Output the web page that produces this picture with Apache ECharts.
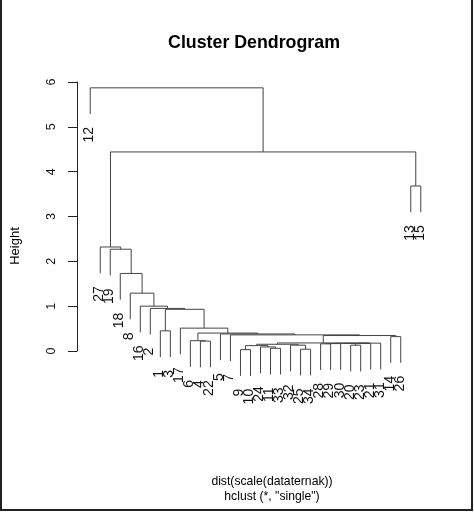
<!DOCTYPE html>
<html>
<head>
<meta charset="utf-8">
<script src="https://cdn.jsdelivr.net/npm/echarts@6/dist/echarts.min.js"></script>
<style>
html, body { margin: 0; padding: 0; background: #fff; }
#main { width: 474px; height: 512px; }
</style>
</head>
<body>
<div id="main"></div>
<script>
// leaves, left to right, as drawn by plot(hclust)
var leafOrder = [12, 27, 19, 18, 8, 16, 2, 1, 3, 17, 6, 4, 22, 5, 7, 9, 10, 24, 11, 33,
                 32, 25, 34, 28, 29, 30, 20, 23, 21, 31, 14, 26, 13, 15];

// hclust style merges: negative = observation, positive = earlier merge step (1 based)
var mergePairs = [
    [-9, -10], [-25, -34], [-11, -33], [-24, 3], [1, 4], [-20, -23], [-32, 2], [5, 7],
    [-28, -29], [9, -30], [10, 6], [11, -21], [12, -31], [8, 13], [-4, -22], [-6, 15],
    [-14, -26], [14, 17], [-7, 18], [-5, 19], [16, 20], [-1, -3], [-17, 21], [22, 23],
    [-2, 24], [-16, 25], [-8, 26], [-18, 27], [-19, 28], [-27, 29], [-13, -15], [30, 31],
    [-12, 32]
];
var mergeHeights = [0.03, 0.04, 0.06, 0.09, 0.12, 0.13, 0.13, 0.15,
                    0.16, 0.165, 0.17, 0.17, 0.175, 0.18, 0.22, 0.23,
                    0.32, 0.345, 0.36, 0.38, 0.40, 0.45, 0.51, 0.93,
                    0.95, 1.00, 1.29, 1.73, 2.27, 2.32, 3.68, 4.44,
                    5.87];
var yTicks = [0, 1, 2, 3, 4, 5, 6];

// build the dendrogram segments (in data units) from the merges
var leafPos = {};
leafOrder.forEach(function (l, i) { leafPos[l] = i; });
var maxH = Math.max.apply(null, mergeHeights);
var minH = Math.min.apply(null, mergeHeights);
var hang = 0.1 * (maxH - minH);
var nodeX = [];
var segments = [];
var leafTips = [];

function childEnd(c, h) {
    if (c < 0) {
        var x = leafPos[-c];
        leafTips.push([x, h - hang, String(-c)]);
        return [x, h - hang];
    }
    return [nodeX[c - 1], mergeHeights[c - 1]];
}

mergePairs.forEach(function (p, k) {
    var h = mergeHeights[k];
    var a = childEnd(p[0], h);
    var b = childEnd(p[1], h);
    segments.push([a[0], a[1], a[0], h]);
    segments.push([a[0], h, b[0], h]);
    segments.push([b[0], h, b[0], b[1]]);
    nodeX[k] = (a[0] + b[0]) / 2;
});

var font = '"Liberation Sans", Arial, Helvetica, sans-serif';
var myChart = echarts.init(document.getElementById('main'));

function plainText(txt, x, y, size, weight, rot) {
    return {
        type: 'text', x: x, y: y, rotation: rot || 0,
        style: {
            text: txt, fontSize: size, fontWeight: weight, fontFamily: font,
            fill: '#000', align: 'center', verticalAlign: 'middle'
        }
    };
}

var option = {
    backgroundColor: '#fff',
    animation: false,
    grid: { left: 77, right: 40, top: 82, bottom: 161 },
    xAxis: { type: 'value', min: -1.32, max: 34.32, show: false },
    yAxis: {
        type: 'value', min: 0, max: 6, interval: 1, position: 'left',
        axisLine: { show: true, onZero: false, lineStyle: { color: '#222', width: 1 } },
        axisTick: { show: true, length: 9, lineStyle: { color: '#222' } },
        axisLabel: {
            rotate: 90, margin: 19, fontSize: 12.5, fontFamily: font, color: '#111',
            formatter: function (v) { return yTicks.indexOf(v) >= 0 ? String(v) : ''; }
        },
        splitLine: { show: false }
    },
    graphic: [
        plainText('Cluster Dendrogram', 254, 43, 17.8, 'bold'),
        plainText('dist(scale(dataternak))', 272, 482, 12.2, 'normal'),
        plainText('hclust (*, "single")', 272, 497, 12.2, 'normal'),
        plainText('Height', 15, 246, 13, 'normal', Math.PI / 2),
        {
            type: 'polyline',
            shape: { points: [[1, 0], [1, 510], [472, 510], [472, 0]] },
            style: { stroke: '#222', lineWidth: 2, fill: null }
        }
    ],
    series: [
        {
            type: 'custom',
            name: 'tree',
            data: segments,
            renderItem: function (params, api) {
                var p1 = api.coord([api.value(0), api.value(1)]);
                var p2 = api.coord([api.value(2), api.value(3)]);
                return {
                    type: 'line',
                    shape: { x1: p1[0], y1: p1[1], x2: p2[0], y2: p2[1] },
                    style: { stroke: '#444', lineWidth: 1 }
                };
            }
        },
        {
            type: 'custom',
            name: 'labels',
            data: leafTips,
            renderItem: function (params, api) {
                var p = api.coord([api.value(0), api.value(1)]);
                return {
                    type: 'text',
                    x: p[0] - 1, y: p[1] + 13,
                    rotation: Math.PI / 2,
                    style: {
                        text: leafTips[params.dataIndex][2],
                        fontSize: 14, fontFamily: font, fill: '#111',
                        align: 'right', verticalAlign: 'middle'
                    }
                };
            }
        }
    ]
};

myChart.setOption(option);
</script>
</body>
</html>
